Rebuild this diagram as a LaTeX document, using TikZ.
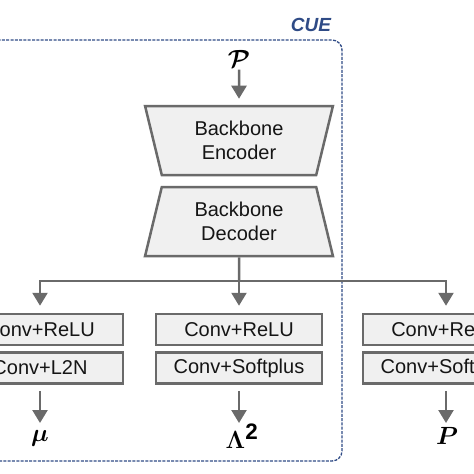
\documentclass[tikz,border=0pt]{standalone}
\usepackage{amsmath}
\usepackage{bm}
\usepackage{fontspec}
\setmainfont{Liberation Sans}
\usetikzlibrary{shapes.geometric,arrows.meta}

\definecolor{linegray}{HTML}{6A6A6A}
\definecolor{boxfill}{HTML}{F0F0F0}
\definecolor{cueblue}{HTML}{2F4B86}
\definecolor{txtgray}{HTML}{151515}

\tikzset{
  block/.style={draw=linegray, fill=boxfill, line width=2.5pt, rectangle,
    minimum width=166pt, minimum height=31pt, inner sep=0pt, text=txtgray,
    font=\fontsize{20}{24}\selectfont},
  bone/.style={draw=linegray, fill=boxfill, line width=2.5pt, trapezium,
    trapezium stretches=true, minimum width=188pt, minimum height=69pt,
    trapezium angle=76, inner sep=0pt, align=center, text=txtgray,
    font=\fontsize{20}{24}\selectfont},
  arr/.style={draw=linegray, line width=2.5pt,
    -{Triangle[width=15pt,length=13pt]}},
  wire/.style={draw=linegray, line width=2.5pt},
  outlabel/.style={font=\fontsize{32}{36}\selectfont, inner sep=0pt}
}

\begin{document}
\begin{tikzpicture}[x=1pt,y=-1pt]
\useasboundingbox (0,0) rectangle (474,474);

\draw[cueblue, line width=1.3pt, dash pattern=on 3pt off 1.3pt, rounded corners=10pt]
  (-20,40) rectangle (342,461);
\node[cueblue, font=\fontsize{19}{22}\selectfont\bfseries\itshape] (cue) at (311,25) {CUE};

\node[outlabel] (inp) at (239,59) {$\bm{\mathcal{P}}$};
\node[bone, shape border rotate=180] (enc) at (239,140.5) {Backbone\\Encoder};
\node[bone] (dec) at (239,221.5) {Backbone\\Decoder};

\node[block] (reluA) at (40,329.5) {Conv+ReLU};
\node[block] (reluB) at (239,329.5) {Conv+ReLU};
\node[block] (reluC) at (446,329.5) {Conv+ReLU};
\node[block] (headA) at (40,368) {Conv+L2N};
\node[block] (headB) at (239,368) {Conv+Softplus};
\node[block] (headC) at (446,368) {Conv+Softplus};

\node[outlabel] (mu) at (40,438) {$\bm{\mu}$};
\node[outlabel] (lam) at (242,436) {$\bm{\Lambda}^{\mathbf{2}}$};
\node[outlabel] (pp) at (447,436) {$\bm{P}$};

\coordinate (junc) at (239,281);
\coordinate (tipA) at (40,423);
\coordinate (tipB) at (239,423);
\coordinate (tipC) at (446,423);

\draw[arr, shorten <=2pt, shorten >=6pt] (inp) -- (enc.north);
\draw[wire] (dec.south) -- (junc);
\draw[arr, shorten >=7pt] (junc) -| (reluA.north);
\draw[arr, shorten >=7pt] (junc) -- (reluB.north);
\draw[arr, shorten >=7pt] (junc) -| (reluC.north);

\draw[arr, shorten <=6pt] (headA.south) -- (tipA);
\draw[arr, shorten <=6pt] (headB.south) -- (tipB);
\draw[arr, shorten <=6pt] (headC.south) -- (tipC);
\end{tikzpicture}
\end{document}
